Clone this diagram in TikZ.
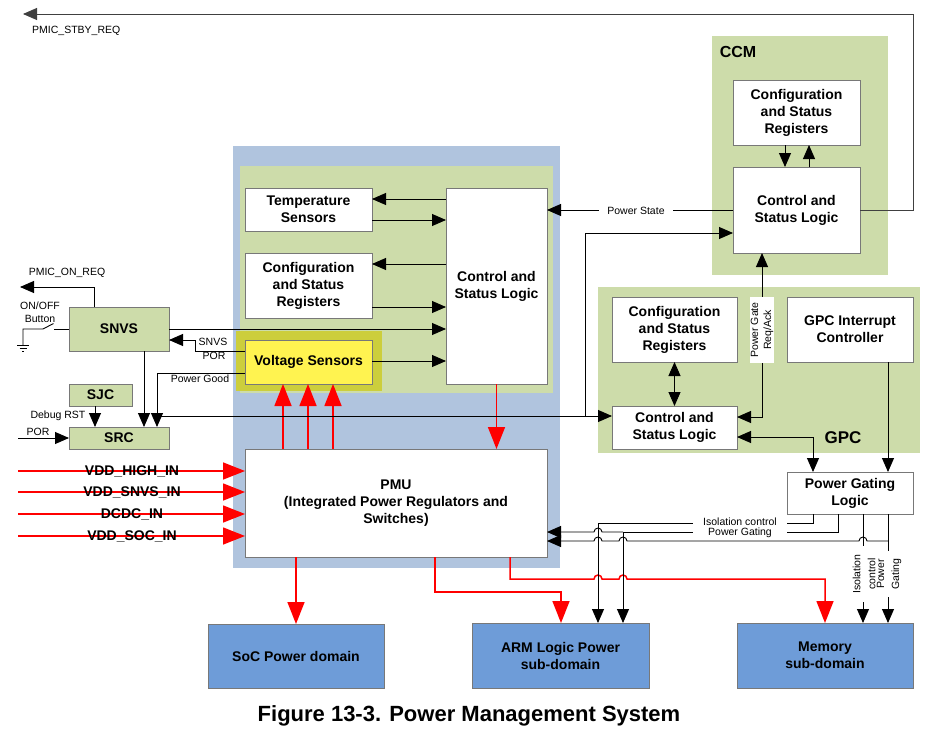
\documentclass[tikz,border=0pt]{standalone}
\usepackage{fontspec}
\setmainfont{Liberation Sans}
\usetikzlibrary{arrows.meta,calc}
\definecolor{regblue}{RGB}{176,196,222}
\definecolor{reggreen}{RGB}{205,220,170}
\definecolor{hlyellow}{RGB}{204,206,60}
\definecolor{vsyellow}{RGB}{255,243,80}
\definecolor{domblue}{RGB}{110,156,216}
\definecolor{boxline}{RGB}{120,120,120}
\begin{document}
\begin{tikzpicture}[x=1pt,y=-1pt,
  region/.style={inner sep=0pt,outer sep=0pt},
  wbox/.style={draw=boxline,fill=white,line width=0.6pt,align=center,inner sep=0pt,outer sep=0pt,
     font=\bfseries\fontsize{14}{17}\selectfont},
  gbox/.style={wbox,fill=reggreen},
  dbox/.style={wbox,fill=domblue},
  lbl/.style={font=\fontsize{10.5}{13}\selectfont,inner sep=1pt,align=center},
  inlbl/.style={font=\bfseries\fontsize{14}{17}\selectfont,inner sep=0pt},
  blk/.style={line width=0.9pt,black,>={Triangle[length=14pt,width=12pt]}},
  rd/.style={line width=1.5pt,red,>={Triangle[length=22pt,width=17pt]}}
]
\useasboundingbox (0,0) rectangle (943,736);

% ---------- regions ----------
\node[region,fill=regblue,minimum width=327,minimum height=422] (pmudom) at (396.5,357) {};
\node[region,fill=reggreen,minimum width=313,minimum height=227] (pmugrn) at (396.5,279.5) {};
\node[region,fill=hlyellow,minimum width=146,minimum height=60] (vshl) at (309,361) {};
\node[region,fill=reggreen,minimum width=176,minimum height=239] (ccm) at (800,155.5) {};
\node[region,fill=reggreen,minimum width=322,minimum height=166] (gpc) at (759,370) {};

\node[font=\bfseries\fontsize{16}{18}\selectfont] (ccmlbl) at (738,52) {CCM};
\node[font=\bfseries\fontsize{17}{19}\selectfont] (gpclbl) at (843,438) {GPC};

% ---------- boxes ----------
\node[wbox,minimum width=127,minimum height=43] (temp) at (308.5,209.5) {Temperature\\Sensors};
\node[wbox,minimum width=127,minimum height=65] (pcfg) at (308.5,285.5) {Configuration\\and Status\\Registers};
\node[wbox,minimum width=101,minimum height=196] (pcsl) at (496.5,286) {Control and\\Status Logic};
\node[wbox,fill=vsyellow,minimum width=127,minimum height=44] (vs) at (308.5,362) {Voltage Sensors};
\node[wbox,minimum width=302,minimum height=108] (pmu) at (396,503) {PMU\\(Integrated Power Regulators and\\Switches)};

\node[wbox,minimum width=127,minimum height=65] (ccfg) at (796.5,112.5) {Configuration\\and Status\\Registers};
\node[wbox,minimum width=127,minimum height=86] (ccsl) at (796.5,210) {Control and\\Status Logic};

\node[wbox,minimum width=125,minimum height=65] (gcfg) at (674.5,329.5) {Configuration\\and Status\\Registers};
\node[wbox,minimum width=126,minimum height=65] (gint) at (850,329.5) {GPC Interrupt\\Controller};
\node[wbox,minimum width=125,minimum height=43] (gcsl) at (674.5,427.5) {Control and\\Status Logic};
\node[wbox,minimum width=126,minimum height=42] (pgl) at (850,493) {Power Gating\\Logic};

\node[gbox,minimum width=100,minimum height=44] (snvs) at (119,329) {SNVS};
\node[gbox,minimum width=63,minimum height=22] (sjc) at (100.5,395) {SJC};
\node[gbox,minimum width=100,minimum height=22] (src) at (119,438) {SRC};

\node[dbox,minimum width=176,minimum height=64] (soc) at (296,656) {SoC Power domain};
\node[dbox,minimum width=177,minimum height=65] (arm) at (560.5,655.5) {ARM Logic Power\\sub-domain};
\node[dbox,minimum width=176,minimum height=65] (mem) at (825,655.5) {Memory\\sub-domain};

% ---------- PMU internal connectors ----------
\draw[blk,->] (pcsl.west |- 0,199) -- (temp.east |- 0,199);
\draw[blk,->] (temp.east |- 0,220) -- (pcsl.west |- 0,220);
\draw[blk,->] (pcsl.west |- 0,264) -- (pcfg.east |- 0,264);
\draw[blk,->] (pcfg.east |- 0,307) -- (pcsl.west |- 0,307);
\draw[blk,->] (snvs.east) -- (pcsl.west |- snvs.east);
\draw[blk,->] (vs.east |- 0,361) -- (pcsl.west |- 0,361);

% ---------- red power arrows ----------
\draw[rd,->] (pmu.north -| 283,0) -- (vs.south -| 283,0);
\draw[rd,->] (pmu.north -| 308,0) -- (vs.south -| 308,0);
\draw[rd,->] (pmu.north -| 333,0) -- (vs.south -| 333,0);
\draw[rd,->] (pcsl.south) -- (pmu.north -| pcsl.south);

\coordinate (inA) at (18,471);
\coordinate (inB) at (18,492);
\coordinate (inC) at (18,514);
\coordinate (inD) at (18,536);
\draw[rd,->] (inA) -- (pmu.west |- inA);
\draw[rd,->] (inB) -- (pmu.west |- inB);
\draw[rd,->] (inC) -- (pmu.west |- inC);
\draw[rd,->] (inD) -- (pmu.west |- inD);
\node[inlbl] (lA) at (132,471) {VDD\_HIGH\_IN};
\node[inlbl] (lB) at (132,492) {VDD\_SNVS\_IN};
\node[inlbl] (lC) at (132,514) {DCDC\_IN};
\node[inlbl] (lD) at (132,536) {VDD\_SOC\_IN};

\draw[rd,->] (pmu.south -| soc.north) -- (soc.north);
\draw[rd,->] (pmu.south -| 435,0) -- (435,592) -- (561,592) -- (arm.north -| 561,0);
\draw[rd,->] (pmu.south -| 510,0) -- (510,579) -- (594,579)
   arc[start angle=180,end angle=0,radius=4pt] -- (619,579)
   arc[start angle=180,end angle=0,radius=4pt] -- (825,579) -- (mem.north -| 825,0);

% ---------- CCM ----------
\draw[blk,->] (785,0 |- ccfg.south) -- (785,0 |- ccsl.north);
\draw[blk,->] (809,0 |- ccsl.north) -- (809,0 |- ccfg.south);
\coordinate (stby) at (23,14);
\draw[blk,->,draw=black!75] (ccsl.east) -- (913,210) -- (913,14) -- (stby);
\node[lbl,anchor=west] (stbylbl) at (31,31) {PMIC\_STBY\_REQ};

\draw[blk,->] (ccsl.west) -- (pcsl.east |- ccsl.west);
\node[lbl,fill=white,inner xsep=8pt] (pslbl) at (636,210.5) {Power State};

% ---------- left side ----------
\coordinate (onreq) at (20,287);
\draw[blk,->] (snvs.north -| 94,0) -- (94,287) -- (onreq);
\node[lbl] (onreqlbl) at (67,273) {PMIC\_ON\_REQ};
\node[lbl,font=\fontsize{10.5}{13}\selectfont] (btnlbl) at (40,312.5) {ON/OFF\\Button};
\coordinate (gnd) at (23,345);
\draw[line width=0.9pt] (snvs.west) -- (54,329);
\draw[line width=0.9pt] (53.5,323.5) -- (43,329) -- (23,329) -- (gnd);
\draw[line width=0.9pt] (17,345) -- (29,345) (19.5,348) -- (26.5,348) (22,351) -- (24,351);

\draw[blk,->] (vs.west |- 0,351) -- (195,351) -- (195,340) -- (snvs.east |- 0,340);
\node[lbl] (snvslbl) at (213,342) {SNVS};
\node[lbl] (porlbl) at (214,356) {POR};

\draw[blk,->] (vs.west |- 0,373) -- (157,373) -- (src.north -| 157,0);
\node[lbl] (pglbl) at (200,378.5) {Power Good};
\draw[blk,->] (snvs.south -| 144,0) -- (src.north -| 144,0);
\draw[blk,->] (sjc.south -| 95,0) -- (src.north -| 95,0);
\node[lbl] (dbglbl) at (58,416) {Debug RST};
\coordinate (por) at (18,438);
\draw[blk,->] (por) -- (src.west);
\node[lbl] (porinlbl) at (38,431.5) {POR};

% reset line to GPC / CCM
\coordinate (rst) at (157,416);
\draw[blk,->] (rst) -- (gcsl.west |- 0,416);
\draw[blk,->] (585,416) -- (585,233) -- (ccsl.west |- 0,233);

% ---------- GPC ----------
\draw[blk,<->] (gcfg.south) -- (gcsl.north);
\draw[blk,<->] (gcsl.east |- 0,417) -- (762,417) -- (762,0 |- ccsl.south);
\node[lbl,fill=white,rotate=90,font=\fontsize{10.5}{13}\selectfont,inner xsep=5pt,inner ysep=0.5pt] (pgra) at (762,330) {Power Gate\\Req/Ack};
\draw[blk,->] (888,0 |- gint.south) -- (888,0 |- pgl.north);
\draw[blk,<->] (gcsl.east |- 0,437) -- (813,437) -- (813,0 |- pgl.north);

% ---------- power gating outputs ----------
\draw[blk,->] (813,0 |- pgl.south) -- (813,523) -- (598,523) -- (arm.north -| 598,0);
\draw[blk,->] (838,0 |- pgl.south) -- (838,532) -- (623,532) -- (arm.north -| 623,0);
\draw[blk,->] (623,532) -- (602,532) arc[start angle=0,end angle=180,radius=4pt] -- (pmu.east |- 0,532);
\draw[blk,->] (863,0 |- pgl.south) -- (mem.north -| 863,0);
\draw[blk,->] (888,0 |- pgl.south) -- (mem.north -| 888,0);
\draw[blk,->] (888,541) -- (867,541) arc[start angle=0,end angle=180,radius=4pt]
   -- (627,541) arc[start angle=0,end angle=180,radius=4pt]
   -- (602,541) arc[start angle=0,end angle=180,radius=4pt] -- (pmu.east |- 0,541);
\node[lbl,fill=white,font=\fontsize{10.5}{10.5}\selectfont,inner xsep=10pt,inner ysep=0.5pt] (pglbl2) at (740,528) {Isolation control\\Power Gating};
\node[lbl,fill=white,rotate=90,font=\fontsize{10.5}{15}\selectfont,inner xsep=8pt,inner ysep=0pt] (isolbl) at (864,574) {Isolation\\control};
\node[lbl,fill=white,rotate=90,font=\fontsize{10.5}{15}\selectfont,inner xsep=8pt,inner ysep=0pt] (pwglbl) at (889,574) {Power\\Gating};

% ---------- title ----------
\node[font=\bfseries\fontsize{22}{24}\selectfont] (title) at (469,716) {Figure 13-3. Power Management System};
\end{tikzpicture}
\end{document}
